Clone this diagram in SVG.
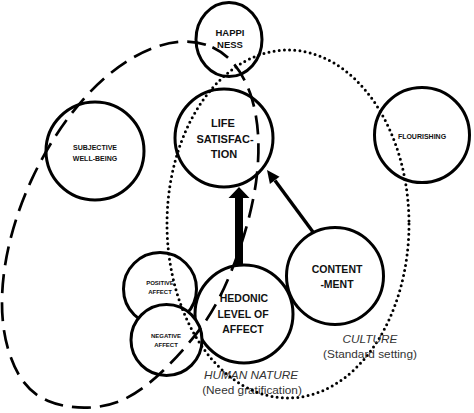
<svg xmlns="http://www.w3.org/2000/svg" width="474" height="413" viewBox="0 0 474 413">
<style>
.n{fill:#fff;stroke:#000;stroke-width:3}
.t{font-family:"Liberation Sans",Arial,sans-serif;font-weight:bold;fill:#111;text-anchor:middle}
.c{font-family:"Liberation Sans",Arial,sans-serif;fill:#333;text-anchor:middle;font-size:11.8px}
.dash{fill:none;stroke:#000;stroke-width:2.7;stroke-dasharray:19 9}
.dot{fill:none;stroke:#000;stroke-width:3;stroke-dasharray:0 5.2;stroke-linecap:round}
</style>
<rect width="474" height="413" fill="#fff"/>
<g id="happiness">
<ellipse class="n" cx="229" cy="39.5" rx="33" ry="37"/>
<text class="t" font-size="9.5" x="230" y="36">HAPPI</text>
<text class="t" font-size="9.5" x="230" y="48">NESS</text>
</g>
<g id="life-satisfaction">
<circle class="n" cx="224" cy="138" r="49"/>
<text class="t" font-size="11" x="223" y="127">LIFE</text>
<text class="t" font-size="11" x="225" y="143">SATISFAC-</text>
<text class="t" font-size="11" x="224" y="158">TION</text>
</g>
<g id="subjective-well-being">
<circle class="n" cx="95" cy="151" r="49"/>
<text class="t" font-size="7" x="95" y="150">SUBJECTIVE</text>
<text class="t" font-size="7" x="95" y="161">WELL-BEING</text>
</g>
<g id="flourishing">
<circle class="n" cx="422" cy="135" r="47.5"/>
<text class="t" font-size="7" x="422" y="139">FLOURISHING</text>
</g>
<g id="hedonic-level-of-affect">
<circle class="n" cx="244" cy="314" r="49"/>
<text class="t" font-size="10.5" x="244" y="302">HEDONIC</text>
<text class="t" font-size="10.5" x="243" y="318">LEVEL OF</text>
<text class="t" font-size="10.5" x="243" y="333">AFFECT</text>
</g>
<g id="contentment">
<circle class="n" cx="335" cy="276" r="48.5"/>
<text class="t" font-size="10.5" x="337" y="273">CONTENT</text>
<text class="t" font-size="10.5" x="337" y="288">-MENT</text>
</g>
<g id="positive-affect">
<circle class="n" cx="160" cy="289" r="36.5"/>
<text class="t" font-size="6" x="160" y="285">POSITIVE</text>
<text class="t" font-size="6" x="160" y="294">AFFECT</text>
</g>
<g id="negative-affect">
<circle class="n" cx="166.5" cy="340" r="35.5"/>
<text class="t" font-size="6" x="166" y="338">NEGATIVE</text>
<text class="t" font-size="6" x="166" y="347">AFFECT</text>
</g>
<g id="human-nature">
<path class="dash" d="M212.4,47.3 C229.6,55.3 242.5,71.4 250.3,93.8 C258.1,116.2 260.3,143.8 256.9,175.1 C253.5,206.4 243.1,242.3 231,272 C218.9,301.7 207.5,321.3 188,344 C168.5,366.7 144.7,391 120,401 C95.3,411 67,408.9 47.6,400.7 C28.2,392.5 17.4,376.7 9.7,354.2 C2,331.7 0,303.7 4,272.8 C8,241.9 17.7,209.5 32.2,178.4 C46.7,147.3 65.4,118.7 86.5,95.8 C107.6,72.9 130.4,56.7 152.5,48.2 C174.6,39.7 195.2,39.3 212.4,47.3 Z"/>
<text class="c" x="251" y="379" font-style="italic">HUMAN NATURE</text>
<text class="c" x="252" y="394">(Need gratification)</text>
</g>
<g id="culture">
<ellipse class="dot" cx="288" cy="224" rx="121" ry="174"/>
<text class="c" x="370" y="343" font-style="italic">CULTURE</text>
<text class="c" x="370" y="358">(Standard setting)</text>
</g>
<g id="connectors">
<polygon fill="#000" points="235,265 243,265 243,198 249.5,198 239,187 228.5,198 235,198"/>
<line x1="313" y1="232" x2="275" y2="180.5" stroke="#000" stroke-width="3.4"/>
<polygon fill="#000" points="267,170 279.5,176.8 269.9,184"/>
</g>
</svg>
